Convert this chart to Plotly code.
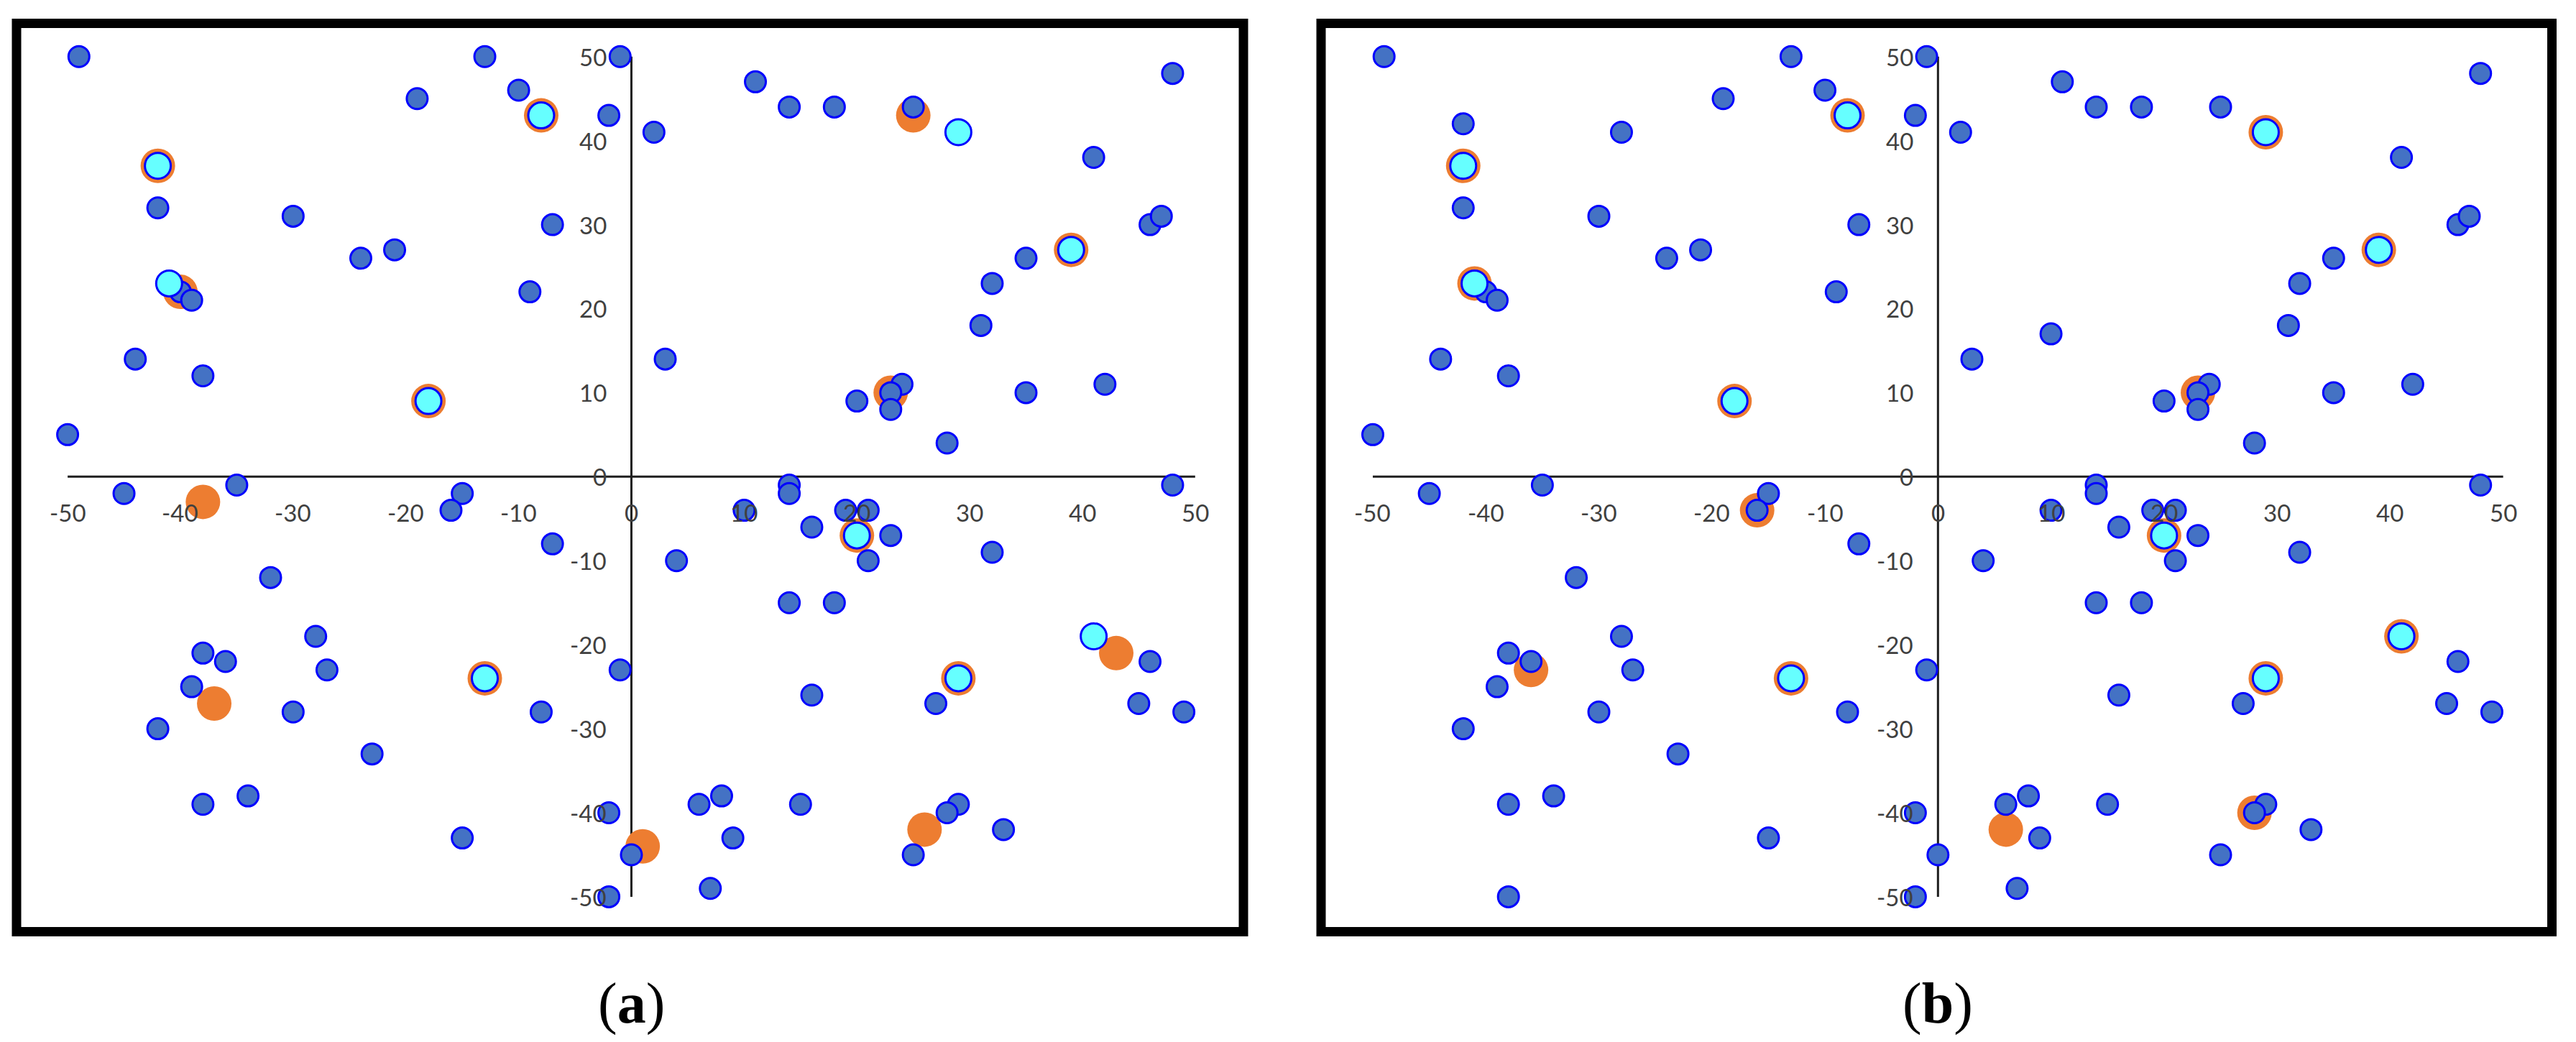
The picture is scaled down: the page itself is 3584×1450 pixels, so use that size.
import plotly.graph_objs as go

# ---------------------------------------------------------------
# datos (valores enteros en [-50, 50])
# puntos azules comunes a los dos paneles
azul_x = [-49, -13, -1, -19, -10, -2, -42, -30, -7, -24, -21, -40, -39, -9, -44, -38, -50,
          11, 14, 18, 25, 2, 48, 41, 46, 47, 35, 32, 31, 3, 24, 23, 23, 20, 35, 42, 28,
          -45, -35, -15, -16, -7, -32, -28, -38, -36, -27, -1, -39, -30, -8, -42, -23, -34, -38, -2, -15, 0, -2,
          14, 14, 48, 10, 19, 21, 16, 23, 4, 21, 32, 14, 18, 46, 16, 27, 45, 49, 6, 8, 15, 29, 28, 33, 9, 25, 7]
azul_y = [50, 50, 50, 45, 46, 43, 32, 31, 30, 26, 27, 22, 21, 22, 14, 12, 5,
          47, 44, 44, 44, 41, 48, 38, 30, 31, 26, 23, 18, 14, 11, 10, 8, 9, 10, 11, 4,
          -2, -1, -2, -4, -8, -12, -19, -21, -22, -23, -23, -25, -28, -28, -30, -33, -38, -39, -40, -43, -45, -50,
          -1, -2, -1, -4, -4, -4, -6, -7, -10, -10, -9, -15, -15, -22, -26, -27, -27, -28, -39, -38, -39, -39, -40, -42, -43, -45, -49]

# puntos azules que solo aparecen en el panel (b)
azul_b_extra_x = [-42, -28, 10, -38]
azul_b_extra_y = [42, 41, 17, -50]

# puntos naranjas de cada panel
naranja_a_x = [-8, 25, -42, -40, -18, 23, 39, -38, 20, -13, 29, 43, -37, 26, 1]
naranja_a_y = [43, 43, 37, 22, 9, 10, 27, -3, -7, -24, -24, -21, -27, -42, -44]
naranja_b_x = [-8, 29, -42, -41, -18, 39, 23, -16, 20, -36, -13, 29, 41, 6, 28]
naranja_b_y = [43, 41, 37, 23, 9, 27, 10, -4, -7, -23, -24, -24, -19, -42, -40]

# puntos cian (iguales en los dos paneles)
cian_x = [-8, 29, -42, -41, -18, 39, 20, -13, 29, 41]
cian_y = [43, 41, 37, 23, 9, 27, -7, -24, -24, -19]

# marcas de los ejes y etiquetas de los paneles
marcas = [-50, -40, -30, -20, -10, 0, 10, 20, 30, 40, 50]
etiquetas_panel = ['(<b>a</b>)', '(<b>b</b>)']

# ---------------------------------------------------------------
W, H = 3584, 1450
OFF = 8  # margen del body de la página


def px(v):
    # posición horizontal en píxeles -> coordenada paper
    return (v - OFF) / W


def py(v):
    # posición vertical en píxeles (desde arriba) -> coordenada paper
    return 1 - (v - OFF) / H


rango_x = [-54.15, 53.9]
rango_y = [-53.6, 53.4]
dominio_y = [py(1290), py(39)]
dominios_x = [[px(29), px(1724)], [px(1844.7), px(3544)]]
bordes = [[px(23), px(1730)], [px(1838), px(3550.5)]]

fig = go.Figure()

paneles = [
    ('x', 'y', azul_x, azul_y, naranja_a_x, naranja_a_y),
    ('x2', 'y2', azul_x + azul_b_extra_x, azul_y + azul_b_extra_y, naranja_b_x, naranja_b_y),
]

for i, (ex, ey, ax, ay, nx, ny) in enumerate(paneles):
    # se dibujan primero los naranjas, luego los azules y por último los cian
    fig.add_trace(go.Scatter(x=nx, y=ny, mode='markers', xaxis=ex, yaxis=ey,
                             marker=dict(size=48, color='#ED7D31', line=dict(width=0))))
    fig.add_trace(go.Scatter(x=ax, y=ay, mode='markers', xaxis=ex, yaxis=ey,
                             marker=dict(size=29, color='#4472C4', line=dict(width=3, color='#0000FF'))))
    fig.add_trace(go.Scatter(x=cian_x, y=cian_y, mode='markers', xaxis=ex, yaxis=ey,
                             marker=dict(size=36, color='#66FFFF', line=dict(width=3, color='#0000FF'))))

    # ejes cruzados en el origen
    fig.add_shape(type='line', xref=ex, yref=ey, x0=marcas[0], x1=marcas[-1], y0=0, y1=0,
                  line=dict(color='#1e1e1e', width=3), layer='below')
    fig.add_shape(type='line', xref=ex, yref=ey, x0=0, x1=0, y0=marcas[0], y1=marcas[-1],
                  line=dict(color='#1e1e1e', width=3), layer='below')

    # etiquetas de las marcas
    for t in marcas:
        fig.add_annotation(x=t, y=0, xref=ex, yref=ey, text=str(t), showarrow=False,
                           xanchor='center', yanchor='middle', yshift=-50,
                           font=dict(family='Lato', size=33, color='#404040'))
        fig.add_annotation(x=0, y=t, xref=ex, yref=ey, text=str(t), showarrow=False,
                           xanchor='right', yanchor='middle', xshift=-32,
                           font=dict(family='Lato', size=33, color='#404040'))

    # marco negro de cada panel
    fig.add_shape(type='rect', xref='paper', yref='paper',
                  x0=bordes[i][0], x1=bordes[i][1], y0=py(1296.5), y1=py(32.5),
                  line=dict(color='black', width=13))

    # etiqueta (a) / (b) debajo del panel
    fig.add_annotation(x=0, y=py(1396), xref=ex, yref='paper', text=etiquetas_panel[i],
                       showarrow=False, xanchor='center', yanchor='middle',
                       font=dict(family='Liberation Serif', size=80, color='black'))

eje = dict(visible=False, showgrid=False, zeroline=False, fixedrange=True)
fig.update_layout(
    width=W, height=H,
    margin=dict(l=0, r=0, t=0, b=0),
    paper_bgcolor='white', plot_bgcolor='white',
    showlegend=False,
    xaxis=dict(eje, range=rango_x, domain=dominios_x[0], anchor='y'),
    yaxis=dict(eje, range=rango_y, domain=dominio_y, anchor='x'),
    xaxis2=dict(eje, range=rango_x, domain=dominios_x[1], anchor='y2'),
    yaxis2=dict(eje, range=rango_y, domain=dominio_y, anchor='x2'),
)

fig.write_html("out.html")
